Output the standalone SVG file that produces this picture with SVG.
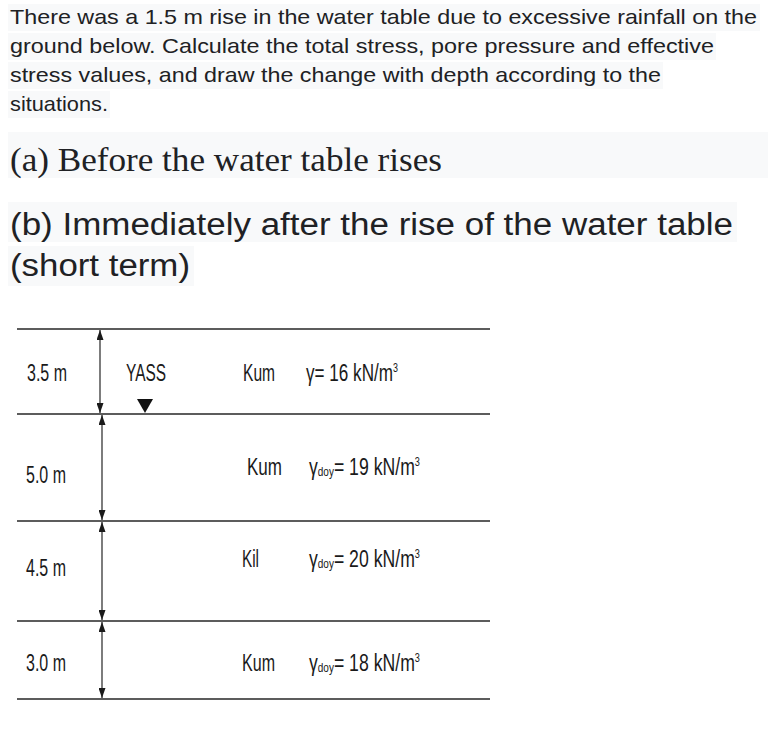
<svg xmlns="http://www.w3.org/2000/svg" width="772" height="731" viewBox="0 0 772 731">
  <defs>
    <style>
      .band { fill: #f8f9fa; }
      .para { font-family: "Liberation Sans", Arial, sans-serif; font-size: 21px; fill: #202124; }
      .serif { font-family: "Liberation Serif", "Times New Roman", serif; font-size: 33px; fill: #202124; }
      .big { font-family: "Liberation Sans", Arial, sans-serif; font-size: 31px; fill: #202124; }
      .lbl { font-family: "Liberation Sans", Arial, sans-serif; font-size: 23px; fill: #1a1a1a; }
      .sub { font-size: 13px; }
      .sup { font-size: 12px; }
      .bound { stroke: #262626; stroke-width: 1.6; fill: none; }
      .dim { stroke: #262626; stroke-width: 1.2; fill: none; marker-start: url(#ah); marker-end: url(#ah); }
    </style>
    <marker id="ah" viewBox="0 0 10 7" refX="10" refY="3.5" markerWidth="10" markerHeight="7" orient="auto-start-reverse" markerUnits="userSpaceOnUse">
      <path d="M0,0 L10,3.5 L0,7 z" fill="#1a1a1a"/>
    </marker>
  </defs>
  <rect width="772" height="731" fill="#ffffff"/>

  <g id="question">
    <rect class="band" x="8" y="4" width="752" height="27"/>
    <rect class="band" x="8" y="33" width="708" height="27"/>
    <rect class="band" x="8" y="62" width="655" height="27"/>
    <rect class="band" x="8" y="91" width="102" height="27"/>
    <text class="para" x="10" y="24" textLength="747" lengthAdjust="spacingAndGlyphs">There was a 1.5 m rise in the water table due to excessive rainfall on the</text>
    <text class="para" x="10" y="53" textLength="704" lengthAdjust="spacingAndGlyphs">ground below. Calculate the total stress, pore pressure and effective</text>
    <text class="para" x="10" y="82" textLength="651" lengthAdjust="spacingAndGlyphs">stress values, and draw the change with depth according to the</text>
    <text class="para" x="10" y="111" textLength="98" lengthAdjust="spacingAndGlyphs">situations.</text>
  </g>

  <g id="part-a">
    <rect class="band" x="8" y="132" width="760" height="46"/>
    <text class="serif" x="10" y="171" textLength="432" lengthAdjust="spacingAndGlyphs">(a) Before the water table rises</text>
  </g>

  <g id="part-b">
    <rect class="band" x="8" y="202" width="729" height="40"/>
    <rect class="band" x="8" y="246" width="186" height="40"/>
    <text class="big" x="10" y="235" textLength="723" lengthAdjust="spacingAndGlyphs">(b) Immediately after the rise of the water table</text>
    <text class="big" x="10" y="276" textLength="180" lengthAdjust="spacingAndGlyphs">(short term)</text>
  </g>

  <g id="boundaries">
    <line class="bound" x1="17" y1="329" x2="490" y2="329"/>
    <line class="bound" x1="17" y1="414" x2="490" y2="414"/>
    <line class="bound" x1="17" y1="521" x2="490" y2="521"/>
    <line class="bound" x1="17" y1="621" x2="490" y2="621"/>
    <line class="bound" x1="17" y1="699" x2="490" y2="699"/>
  </g>

  <g id="connectors">
    <line class="dim" x1="100" y1="330" x2="100" y2="413"/>
    <line class="dim" x1="102" y1="415" x2="102" y2="520"/>
    <line class="dim" x1="102" y1="522" x2="102" y2="620"/>
    <line class="dim" x1="102" y1="622" x2="102" y2="698"/>
  </g>

  <g id="layer1">
    <text class="lbl" x="27" y="381" textLength="40" lengthAdjust="spacingAndGlyphs">3.5 m</text>
    <text class="lbl" x="126" y="381" textLength="40" lengthAdjust="spacingAndGlyphs">YASS</text>
    <text class="lbl" x="243" y="381" textLength="32" lengthAdjust="spacingAndGlyphs">Kum</text>
    <text class="lbl" x="306" y="381" textLength="92" lengthAdjust="spacingAndGlyphs">γ= 16 kN/m<tspan class="sup" dy="-9">3</tspan></text>
    <path id="water-table" d="M137,399 L153,399 L145,413 Z" fill="#111111"/>
  </g>

  <g id="layer2">
    <text class="lbl" x="26" y="483" textLength="40" lengthAdjust="spacingAndGlyphs">5.0 m</text>
    <text class="lbl" x="247" y="475" textLength="35" lengthAdjust="spacingAndGlyphs">Kum</text>
    <text class="lbl" x="309" y="475" textLength="111" lengthAdjust="spacingAndGlyphs">γ<tspan class="sub" dy="1">doy</tspan><tspan dy="-1">= 19 kN/m</tspan><tspan class="sup" dy="-9">3</tspan></text>
  </g>

  <g id="layer3">
    <text class="lbl" x="26" y="576" textLength="40" lengthAdjust="spacingAndGlyphs">4.5 m</text>
    <text class="lbl" x="242" y="567" textLength="17" lengthAdjust="spacingAndGlyphs">Kil</text>
    <text class="lbl" x="309" y="567" textLength="111" lengthAdjust="spacingAndGlyphs">γ<tspan class="sub" dy="1">doy</tspan><tspan dy="-1">= 20 kN/m</tspan><tspan class="sup" dy="-9">3</tspan></text>
  </g>

  <g id="layer4">
    <text class="lbl" x="26" y="671" textLength="40" lengthAdjust="spacingAndGlyphs">3.0 m</text>
    <text class="lbl" x="242" y="671" textLength="33" lengthAdjust="spacingAndGlyphs">Kum</text>
    <text class="lbl" x="309" y="671" textLength="111" lengthAdjust="spacingAndGlyphs">γ<tspan class="sub" dy="1">doy</tspan><tspan dy="-1">= 18 kN/m</tspan><tspan class="sup" dy="-9">3</tspan></text>
  </g>
</svg>
